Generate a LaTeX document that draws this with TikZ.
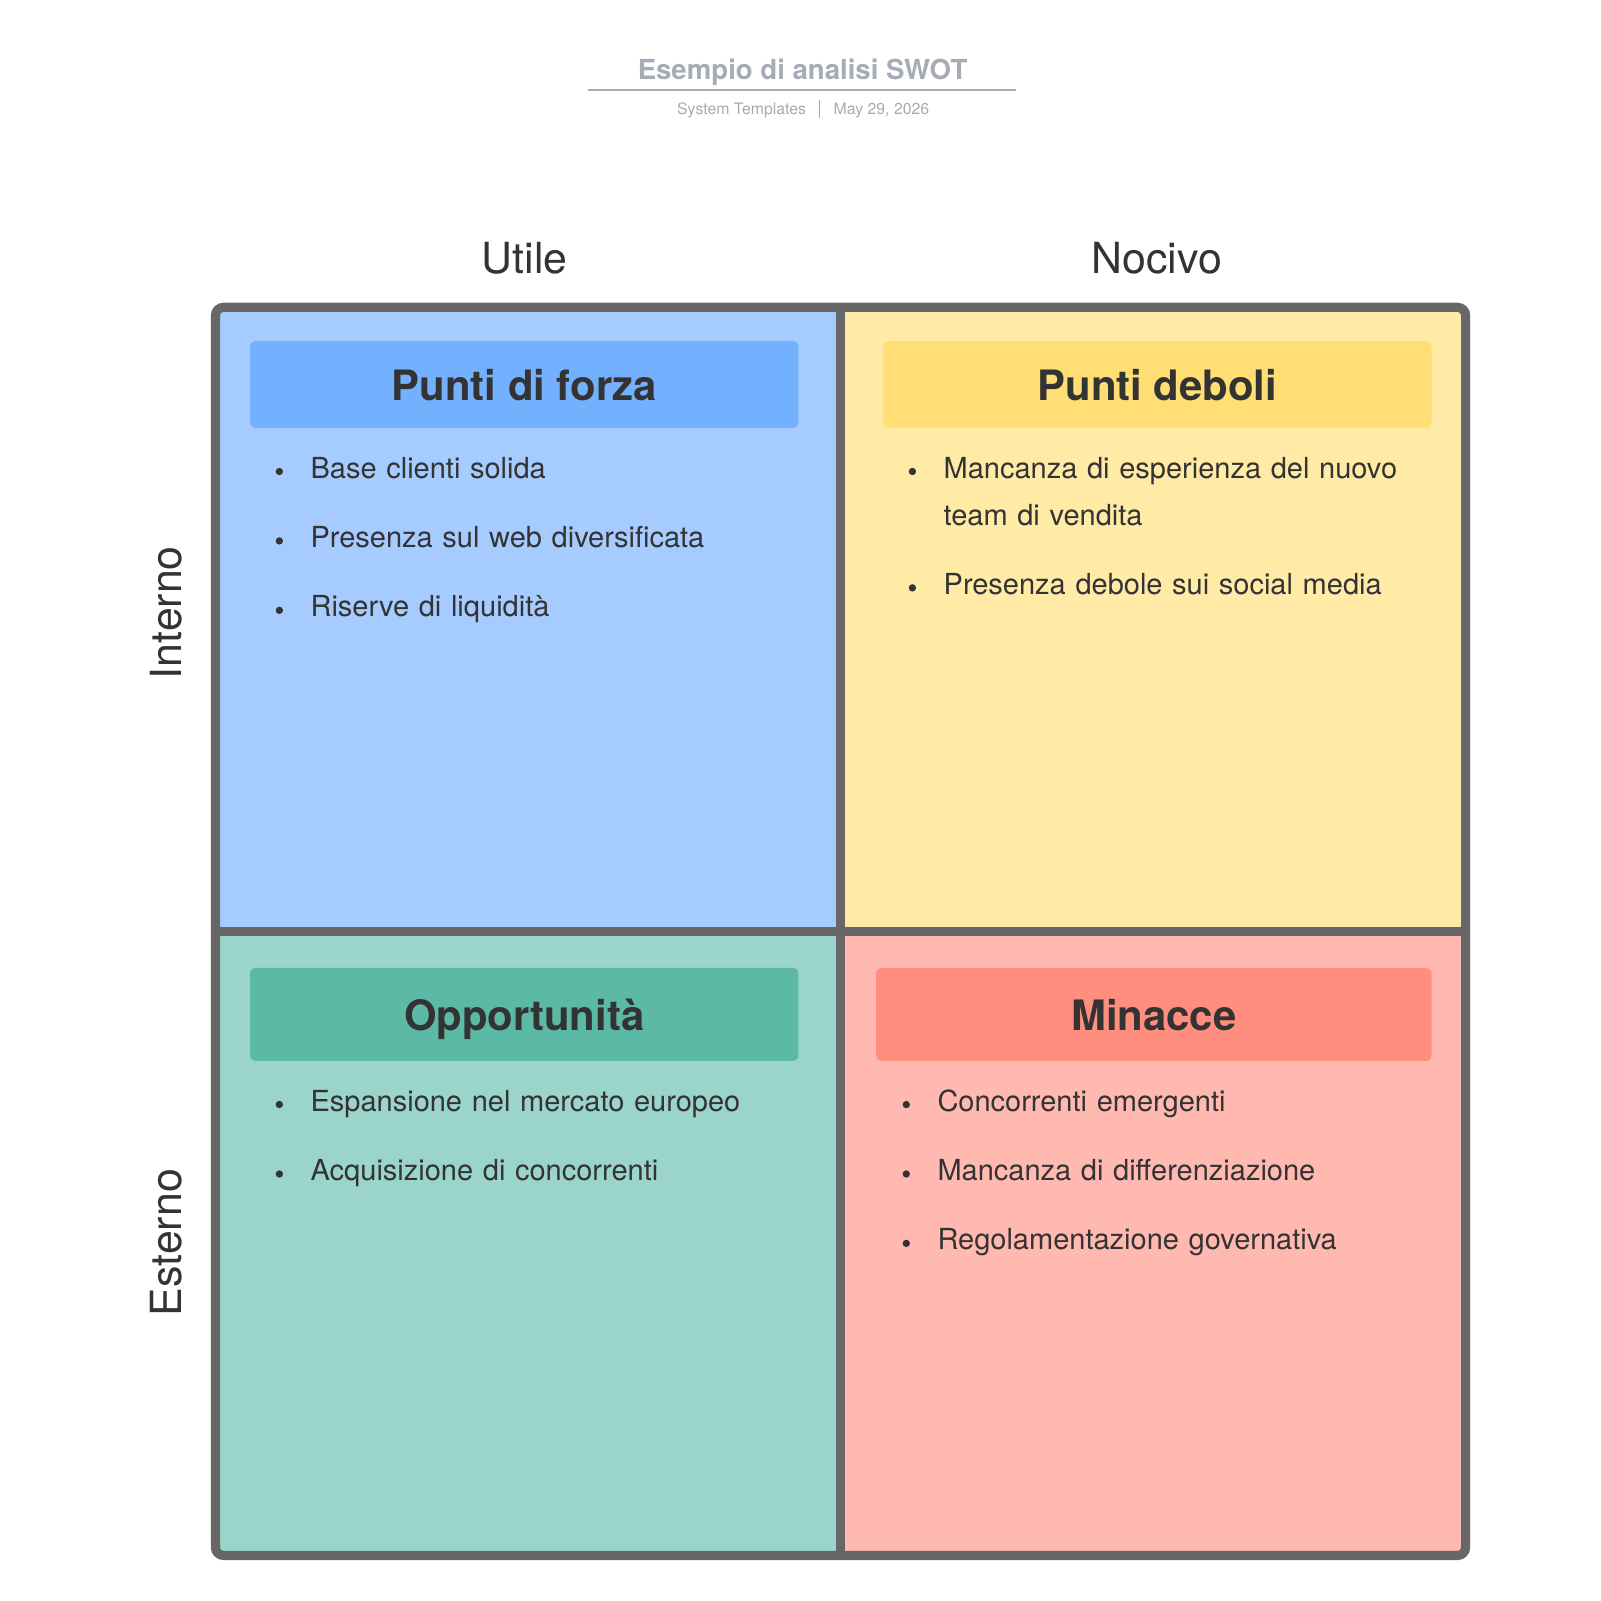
\documentclass[tikz,border=0pt]{standalone}
\usepackage{fontspec}
\setmainfont{TeX Gyre Heros}
\usepackage{enumitem}
\usetikzlibrary{positioning}

\definecolor{frameGray}{HTML}{676767}
\definecolor{inkDark}{HTML}{333333}
\definecolor{titleGray}{HTML}{A6ABB5}
\definecolor{forzaFill}{HTML}{A6CCFF}
\definecolor{forzaHead}{HTML}{73B1FF}
\definecolor{deboliFill}{HTML}{FFEAA6}
\definecolor{deboliHead}{HTML}{FFDE73}
\definecolor{opporFill}{HTML}{9AD4CA}
\definecolor{opporHead}{HTML}{5CB9A6}
\definecolor{minaFill}{HTML}{FFB9B0}
\definecolor{minaHead}{HTML}{FF8E7F}

\newcommand{\swotdot}{\raisebox{0.1em}{\tikz\fill (0,0) circle (3.6pt);}}
\setlist[itemize]{label=\swotdot, leftmargin=30pt, labelsep=27pt, itemsep=22pt, parsep=0pt, topsep=0pt, partopsep=0pt}

\tikzset{
  quad/.style={minimum width=612pt, minimum height=611pt, inner sep=0pt, anchor=north west},
  head/.style={rounded corners=5pt, minimum height=85pt, minimum width=537pt, inner sep=0pt,
    text height=33pt, text depth=2pt,
    font=\fontsize{41}{48}\selectfont\bfseries, text=inkDark},
  axis/.style={font=\fontsize{42}{50}\selectfont, text=inkDark},
  bullets/.style={anchor=north west, inner sep=0pt, text width=530pt,
    font=\fontsize{28.4}{46}\selectfont, text=inkDark},
  frame/.style={line width=9pt, draw=frameGray}
}

\begin{document}
\begin{tikzpicture}[x=1pt,y=-1pt]
  \useasboundingbox[fill=white] (0,0) rectangle (1568,1568);

  % title block
  \node[font=\fontsize{27}{30}\selectfont\bfseries, text=titleGray] (title) at (786,71) {Esempio di analisi SWOT};
  \draw[line width=2pt, titleGray] (576,88) -- (995,88);
  \node[anchor=east, font=\fontsize{15.5}{18}\selectfont, text=titleGray] (author) at (793,108) {System Templates};
  \draw[line width=1pt, titleGray] (803,98) -- (803,116);
  \node[anchor=west, font=\fontsize{15.5}{18}\selectfont, text=titleGray] (date) at (813,108) {May 29, 2026};

  % quadrants
  \node[quad, fill=forzaFill] (qS) at (211,301) {};
  \node[quad, fill=deboliFill] (qW) at (823,301) {};
  \node[quad, fill=opporFill] (qO) at (211,912) {};
  \node[quad, fill=minaFill] (qT) at (823,912) {};

  \draw[frame, rounded corners=8pt] (qS.north west) rectangle (qT.south east);
  \draw[frame] (qS.north east) -- (qO.south east);
  \draw[frame] (qS.south west) -- (qW.south east);

  % axis labels
  \node[axis] (utile) at (514,253) {Utile};
  \node[axis] (nocivo) at (1133,253) {Nocivo};
  \node[axis, rotate=90] (interno) at (163,600) {Interno};
  \node[axis, rotate=90] (esterno) at (163,1217) {Esterno};

  % headers
  \node[head, fill=forzaHead] (hS) at (513.5,376.5) {Punti di forza};
  \node[head, fill=deboliHead] (hW) at (1133.5,376.5) {Punti deboli};
  \node[head, fill=opporHead, minimum height=91pt] (hO) at (513.5,993.5) {Opportunità};
  \node[head, fill=minaHead, minimum height=91pt, minimum width=544pt] (hT) at (1130,993.5) {Minacce};

  % lists
  \node[bullets] (lS) at (274,422) {\begin{itemize}
    \item Base clienti solida
    \item Presenza sul web diversificata
    \item Riserve di liquidità
  \end{itemize}};
  \node[bullets] (lW) at (894,422) {\begin{itemize}
    \item Mancanza di esperienza del nuovo\newline team di vendita
    \item Presenza debole sui social media
  \end{itemize}};
  \node[bullets] (lO) at (274,1042) {\begin{itemize}
    \item Espansione nel mercato europeo
    \item Acquisizione di concorrenti
  \end{itemize}};
  \node[bullets] (lT) at (888,1042) {\begin{itemize}
    \item Concorrenti emergenti
    \item Mancanza di differenziazione
    \item Regolamentazione governativa
  \end{itemize}};
\end{tikzpicture}
\end{document}
